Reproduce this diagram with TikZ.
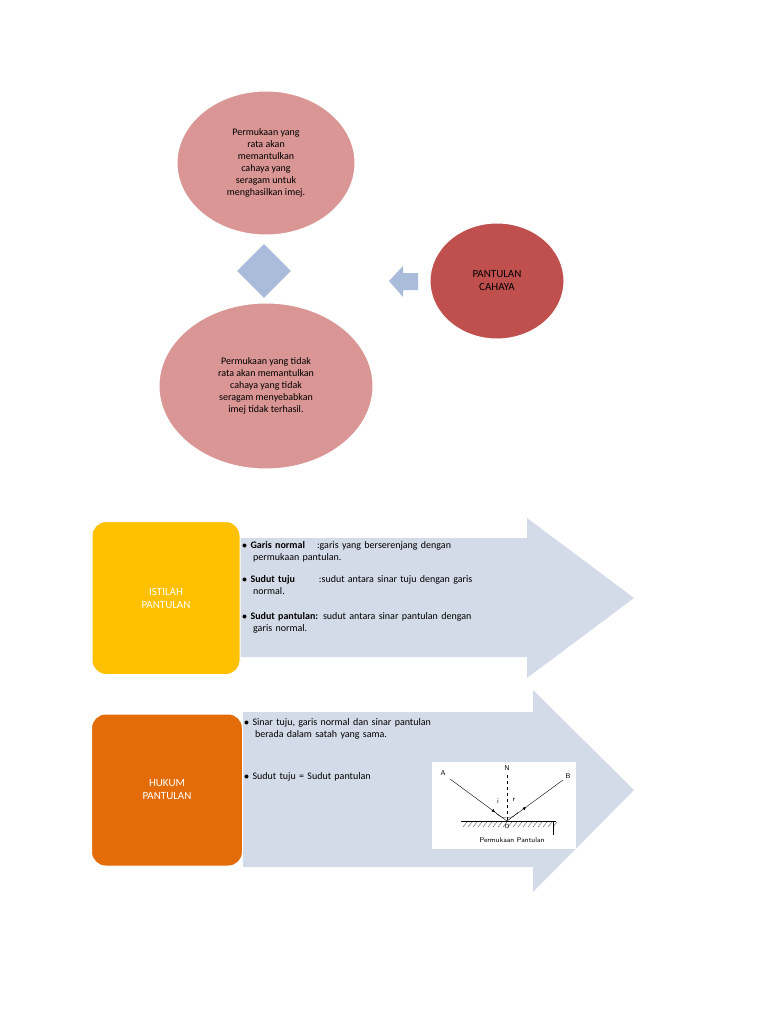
\documentclass[tikz,border=0pt]{standalone}
\usepackage{fontspec}
\setmainfont{Carlito}
\usepackage{tikz}
\usetikzlibrary{arrows.meta,positioning,shapes.geometric,calc}
\definecolor{pinkfill}{HTML}{D99694}
\definecolor{redfill}{HTML}{C0504D}
\definecolor{bluefill}{HTML}{A9BCD9}
\definecolor{arrowfill}{HTML}{D3DBE8}
\definecolor{yellowfill}{HTML}{FFC000}
\definecolor{orangefill}{HTML}{E36C09}

\begin{document}
\begin{tikzpicture}[
    x=1pt, y=-1pt,
    font=\fontsize{10}{12}\selectfont,
    >=latex,
    bubble/.style={ellipse, draw=white, line width=1pt, fill=pinkfill, align=center},
    tag/.style={draw=white, line width=1pt, rounded corners=14pt, align=center, text=white, font=\fontsize{11}{13}\selectfont},
    bigarrow/.style={fill=arrowfill, draw=none},
    item/.style={anchor=north west, align=left, text width=320pt, inner sep=0pt}
]
    \useasboundingbox (0,0) rectangle (768,1024);

    % Top part
    \node [bubble, minimum width=178pt, minimum height=144pt] (flat) at (266,163)
        {Permukaan yang\\rata akan\\memantulkan\\cahaya yang\\seragam untuk\\menghasilkan imej.};
    \node [diamond, fill=bluefill, minimum width=54pt, minimum height=54pt, inner sep=0pt] (link) at (264,271) {};
    \node [bubble, minimum width=214pt, minimum height=166pt] (rough) at (266,386)
        {Permukaan yang tidak\\rata akan memantulkan\\cahaya yang tidak\\seragam menyebabkan\\imej tidak terhasil.};
    \node [ellipse, draw=white, line width=1pt, fill=redfill, minimum width=134pt, minimum height=116pt, align=center,
           font=\fontsize{11}{13}\selectfont] (topic) at (497,281) {PANTULAN\\CAHAYA};
    \fill [bluefill] (389,281) -- (403,266) -- (403,273) -- (418,273) -- (418,290) -- (403,290) -- (403,297) -- cycle;

    % Istilah pantulan
    \fill [bigarrow] (238,538) -- (527,538) -- (527,518) -- (634,598) -- (527,678) -- (527,657) -- (238,657) -- cycle;
    \node [tag, fill=yellowfill, minimum width=148pt, minimum height=153pt] (term) at (166,598) {ISTILAH\\PANTULAN};
    \node [item] (t1) at (242,541) {$\bullet$ \textbf{Garis normal}\hspace{1.2em}:garis yang berserenjang dengan\\\hspace{1.1em}permukaan pantulan.};
    \node [item] (t2) at (242,575) {$\bullet$ \textbf{Sudut tuju}\hspace{2.4em}:sudut antara sinar tuju dengan garis\\\hspace{1.1em}normal.};
    \node [item] (t3) at (242,612) {$\bullet$ \textbf{Sudut pantulan:} sudut antara sinar pantulan dengan\\\hspace{1.1em}garis normal.};

    % Hukum pantulan
    \fill [bigarrow] (243,712) -- (533,712) -- (533,690) -- (634,790) -- (533,892) -- (533,867) -- (243,867) -- cycle;
    \node [tag, fill=orangefill, minimum width=151pt, minimum height=152pt] (law) at (167,790) {HUKUM\\PANTULAN};
    \node [item] (l1) at (244,718) {$\bullet$ Sinar tuju, garis normal dan sinar pantulan\\\hspace{1.1em}berada dalam satah yang sama.};
    \node [item] (l2) at (244,772) {$\bullet$ Sudut tuju = Sudut pantulan};

    % Small sketch
    \fill [white] (432,762) rectangle (576,849);
    \coordinate (O) at (507,821);
    \coordinate (Aend) at (450,779);
    \coordinate (Bend) at (563,780);
    \draw [thin] (461,821) -- (556,821);
    \foreach \x in {463,468,...,553} \draw [very thin] (\x+4,822) -- (\x,827);
    \draw [thin, dashed] (507,775) -- (O);
    \draw [thin, -{Latex[length=4pt]}] (Aend) -- ($(Aend)!0.8!(O)$);
    \draw [thin] ($(Aend)!0.8!(O)$) -- (O);
    \draw [thin, -{Latex[length=4pt]}] (O) -- ($(O)!0.35!(Bend)$);
    \draw [thin] ($(O)!0.35!(Bend)$) -- (Bend);
    \draw [very thin] (495,812) arc[start angle=215, end angle=325, radius=14pt];
    \draw [very thin] (553,822) -- (553,835);
    \node [font=\fontsize{7}{8}\selectfont\sffamily, inner sep=0pt] (lA) at (443,773) {A};
    \node [font=\fontsize{7}{8}\selectfont\sffamily, inner sep=0pt] (lN) at (507,768) {N};
    \node [font=\fontsize{7}{8}\selectfont\sffamily, inner sep=0pt] (lB) at (568,776) {B};
    \node [font=\fontsize{7}{8}\selectfont\sffamily, inner sep=0pt] (li) at (498,801) {i};
    \node [font=\fontsize{7}{8}\selectfont\sffamily, inner sep=0pt] (lr) at (514,800) {r};
    \node [font=\fontsize{6}{7}\selectfont\sffamily, inner sep=0pt] (lO) at (507,826) {O};
    \node [font=\fontsize{7}{8}\selectfont\sffamily, inner sep=0pt] (lsurf) at (512,840) {Permukaan Pantulan};
\end{tikzpicture}
\end{document}
